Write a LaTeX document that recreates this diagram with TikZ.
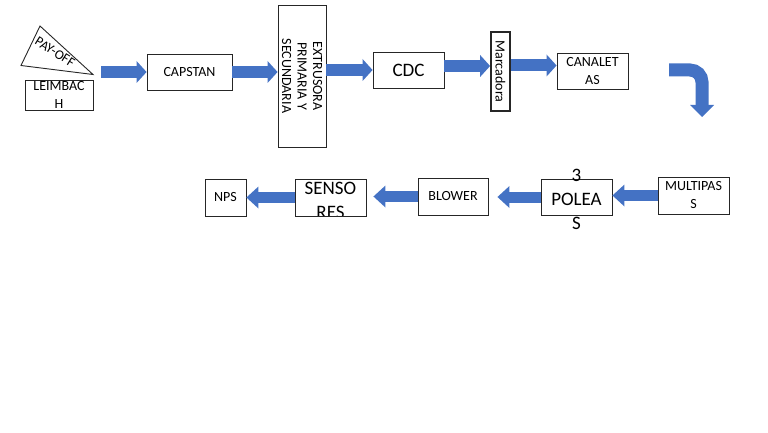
\documentclass[tikz,border=0pt]{standalone}
\usepackage{fontspec}
\setmainfont{Carlito}
\usetikzlibrary{arrows.meta}
\definecolor{arrowblue}{RGB}{68,114,196}

\begin{document}
\begin{tikzpicture}[x=1pt,y=-1pt]
  \tikzstyle{box}=[draw=black!85,line width=0.9pt,inner sep=0pt,align=center,
    font=\fontsize{14}{18}\selectfont]
  \tikzstyle{big}=[font=\fontsize{19}{24}\selectfont]
  \tikzstyle{flow}=[draw=arrowblue,line width=12pt,
    -{Triangle[length=10pt,width=22pt,line width=0pt]}]
  \tikzstyle{flowback}=[draw=arrowblue,line width=11pt,
    -{Triangle[length=12pt,width=22pt,line width=0pt]}]
  \tikzset{dim/.style 2 args={minimum width=#1,minimum height=#2}}

  \useasboundingbox (0,0) rectangle (768,433);

  % first row
  \draw [black!85,line width=0.9pt] (40,26) -- (21,65.5) -- (93,74.5) -- cycle;
  \node [font=\fontsize{13.5}{16}\selectfont,rotate=-32] (payoff) at (55,52) {PAY-OFF};
  \node [box,dim={68pt}{30pt}] (leim) at (59,95) {LEIMBAC\\H};
  \node [box,dim={85pt}{36pt}] (cap) at (189.5,72) {CAPSTAN};
  \node [box,dim={142pt}{48pt},rotate=-90,font=\fontsize{14}{15.5}\selectfont]
    (extr) at (302,76) {EXTRUSORA\\PRIMARIA Y\\SECUNDARIA};
  \node [box,big,dim={71pt}{36pt}] (cdc) at (408.5,70) {CDC};
  \node [box,dim={79pt}{19pt},rotate=-90,line width=1.8pt] (marc) at (500.5,71.5) {Marcadora};
  \node [box,dim={71pt}{36pt}] (canal) at (592.5,71) {CANALET\\AS};

  \coordinate (feed) at (101,72);
  \draw [flow] (feed) -- (cap.west);
  \draw [flow] (cap.east) -- (cap.east -| extr.south);
  \draw [flow] (cdc.west -| extr.north) -- (cdc.west);
  \draw [flow] ([yshift=4pt]cdc.east) -- ([yshift=4pt]cdc.east -| marc.south);
  \draw [flow] ([yshift=6pt]marc.north) -- ([yshift=6pt]marc.north -| canal.west);

  % turn down to the second row
  \coordinate (turnin) at (669,70);
  \coordinate (turnout) at (702,117);
  \draw [flow,line width=13pt,rounded corners=12pt,
    -{Triangle[length=12pt,width=24pt,line width=0pt]}]
    (turnin) -- (turnin -| turnout) -- (turnout);

  % second row
  \node [box,dim={41pt}{37pt}] (nps) at (225.5,197.5) {NPS};
  \node [box,dim={71pt}{37pt},path picture={
      \node [big,draw=none,align=center] (senstext)
        at ([yshift=-3pt]path picture bounding box.center) {SENSO\\RES};}]
    (sens) at (330.5,197.5) {};
  \node [box,dim={70pt}{37pt}] (blow) at (453,196.5) {BLOWER};
  \node [box,dim={71pt}{36pt},
    label={[big,align=center,name=poltext,yshift=-2.5pt]center:{3\\POLEA\\S}}]
    (pol) at (576.5,197) {};
  \node [box,dim={71pt}{37pt}] (multi) at (693.5,195.5) {MULTIPAS\\S};

  \draw [flowback] (multi.west) -- (multi.west -| pol.east);
  \draw [flowback] (pol.west) -- ([xshift=9pt]blow.east |- pol.west);
  \draw [flowback] (blow.west) -- ([xshift=7pt]sens.east |- blow.west);
  \draw [flowback] (sens.west) -- (sens.west -| nps.east);

\end{tikzpicture}
\end{document}
